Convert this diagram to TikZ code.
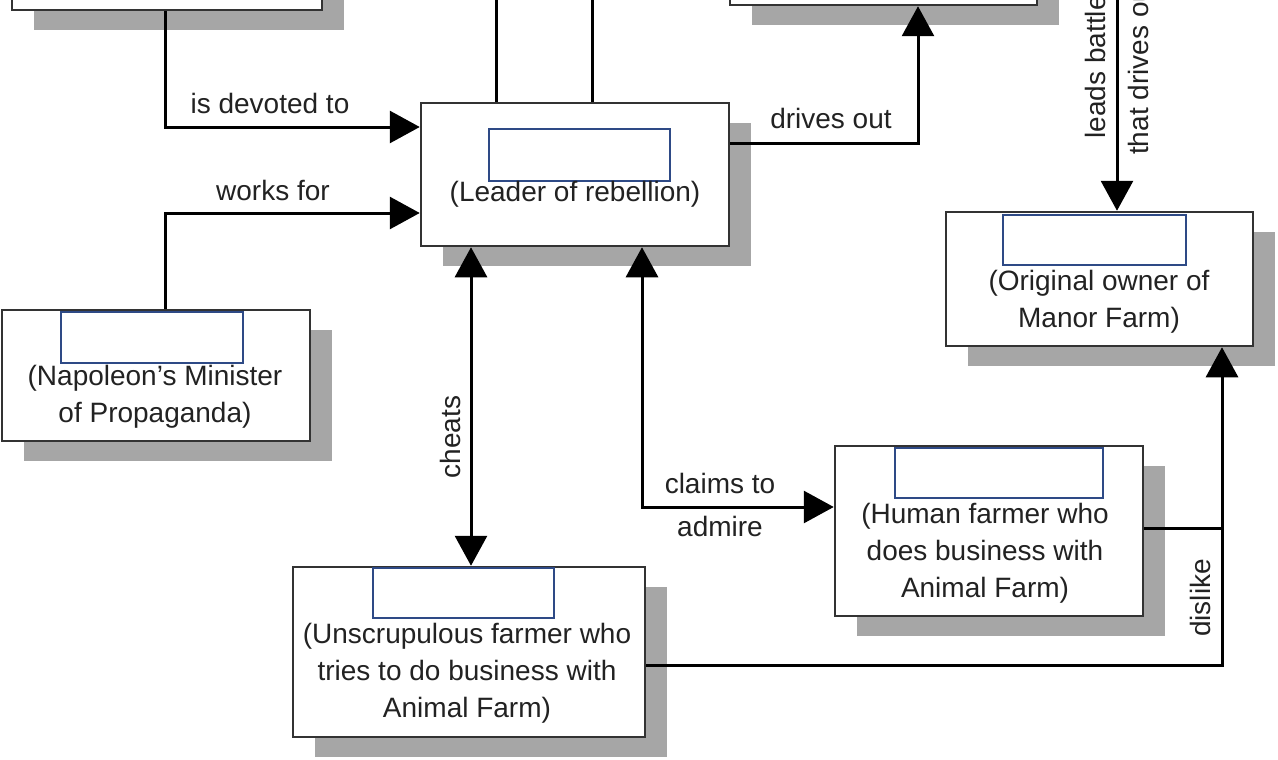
\documentclass[tikz,border=0pt]{standalone}
\usepackage{fontspec}
\setmainfont{Liberation Sans}
\usetikzlibrary{arrows.meta,shadows}
\definecolor{shd}{HTML}{A6A6A6}
\definecolor{ibl}{HTML}{2E4A86}
\definecolor{bord}{HTML}{333333}
\definecolor{ink}{HTML}{222222}
\begin{document}
\begin{tikzpicture}[x=1pt,y=-1pt,
  box/.style={draw=bord,line width=2.5pt,fill=white,inner sep=0pt,
    drop shadow={shadow xshift=22pt,shadow yshift=-20pt,fill=shd,opacity=1}},
  inbox/.style={draw=ibl,line width=2pt,fill=white,inner sep=0pt},
  txt/.style={font=\fontsize{28}{37}\selectfont,align=center,inner sep=0pt,text=ink},
  lbl/.style={font=\fontsize{28}{43}\selectfont,align=center,inner sep=0pt,text=ink},
  conn/.style={line width=3pt,draw=black},
  tip/.style={-{Triangle[length=30pt,width=32pt]}},
  tips/.style={{Triangle[length=30pt,width=32pt]}-{Triangle[length=30pt,width=32pt]}}
]
\useasboundingbox (0,0) rectangle (1278,760);
\clip (0,0) rectangle (1278,760);
\fill[white] (0,0) rectangle (1278,760);

% boxes
\node[box,minimum width=310pt,minimum height=140pt] (tl) at (167,-60) {};
\node[box,minimum width=307pt,minimum height=140pt] (tr) at (883.5,-65) {};
\node[box,minimum width=308pt,minimum height=143pt] (lead) at (575,174.5) {};
\node[box,minimum width=308pt,minimum height=131pt] (sq) at (156,375.5) {};
\node[box,minimum width=307pt,minimum height=134pt] (own) at (1099.5,279) {};
\node[box,minimum width=308pt,minimum height=170pt] (hum) at (989,531) {};
\node[box,minimum width=352pt,minimum height=170pt] (uns) at (469,652) {};

% inner name boxes
\node[inbox,minimum width=181pt,minimum height=52pt] (leadn) at (579.5,155) {};
\node[inbox,minimum width=182pt,minimum height=51pt] (sqn) at (152,337.5) {};
\node[inbox,minimum width=183pt,minimum height=50pt] (ownn) at (1094.5,240) {};
\node[inbox,minimum width=208pt,minimum height=50pt] (humn) at (999,473) {};
\node[inbox,minimum width=181pt,minimum height=50pt] (unsn) at (463.5,593) {};

% descriptions
\node[txt] (leadt) at (575,194) {(Leader of rebellion)};
\node[txt] (sqt) at (155,396.5) {(Napoleon's Minister\\of Propaganda)};
\node[txt] (ownt) at (1099,301.5) {(Original owner of\\Manor Farm)};
\node[txt] (humt) at (985,553) {(Human farmer who\\does business with\\Animal Farm)};
\node[txt] (unst) at (467,673) {(Unscrupulous farmer who\\tries to do business with\\Animal Farm)};

% corner coordinates
\coordinate (c1) at (165,127);
\coordinate (c2) at (165,213);
\coordinate (c3) at (918,143);
\coordinate (c4) at (642,507);
\coordinate (c5) at (1222,528);
\coordinate (c6) at (1222,665);
\coordinate (ch) at (471,400);
\coordinate (t1) at (496,-40);
\coordinate (t2) at (592,-40);
\coordinate (t3) at (1117,-40);

% connectors
\draw[conn,tip] (tl.south -| c1) -- (c1) -- (lead.west |- c1);
\draw[conn,tip] (sq.north -| c2) -- (c2) -- (lead.west |- c2);
\draw[conn] (lead.north -| t1) -- (t1);
\draw[conn] (lead.north -| t2) -- (t2);
\draw[conn,tip] (lead.east |- c3) -- (c3) -- (tr.south -| c3);
\draw[conn,tip] (t3) -- (own.north -| t3);
\draw[conn,tips] (lead.south -| ch) -- (uns.north -| ch);
\draw[conn,tips] (lead.south -| c4) -- (c4) -- (hum.west |- c4);
\draw[conn] (hum.east |- c5) -- (c5);
\draw[conn,tip] (uns.east |- c6) -- (c6) -- (own.south -| c6);

% labels
\node[lbl] (l1) at (270,103) {is devoted to};
\node[lbl] (l2) at (273,190) {works for};
\node[lbl] (l3) at (831,118) {drives out};
\node[lbl,rotate=90] (l4) at (450,437) {cheats};
\node[lbl] (l5) at (720,505) {claims to\\admire};
\node[lbl,rotate=90] (l6) at (1200,598) {dislike};
\node[lbl,rotate=90,anchor=west] (l7) at (1117,155) {leads battle\\that drives out};
\end{tikzpicture}
\end{document}
